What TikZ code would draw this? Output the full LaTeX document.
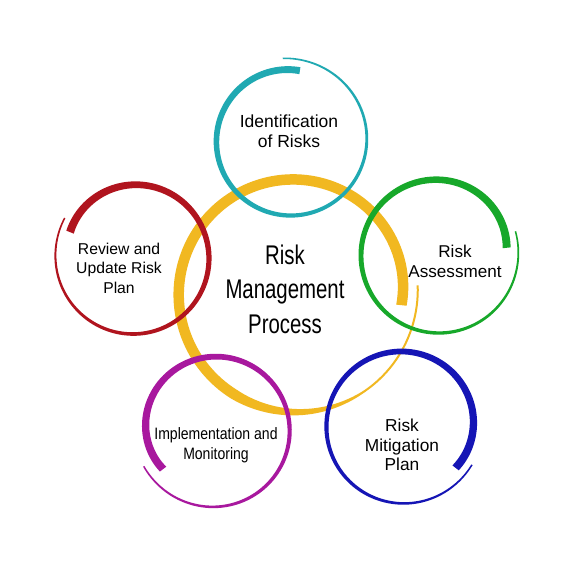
\documentclass[tikz,border=0pt]{standalone}
\usepackage{fontspec}
\setmainfont{Liberation Sans}
\newfontfamily\narrowfont[FakeStretch=0.755]{Liberation Sans}
\newfontfamily\condfont[FakeStretch=0.85]{Liberation Sans}

\definecolor{ringteal}{HTML}{20A9B2}
\definecolor{ringred}{HTML}{B0141E}
\definecolor{ringgreen}{HTML}{17A82A}
\definecolor{ringpurple}{HTML}{A8189E}
\definecolor{ringblue}{HTML}{1515B5}
\definecolor{ringyellow}{HTML}{F1B821}

% Параметры сужения мазка (по умолчанию линейно)
\def\Tc{0}
\def\Te{1}

\tikzset{
  declare function={
    brs(\x)=(\x-\Aa)/(\Ab-\Aa);
    brr(\x)=\Rr+\Rg*brs(\x)^4-\Rh*(1-brs(\x))^6;
    brw(\x)=\Wb+(\Wa-\Wb)*min(1,max(0,(\Te-brs(\x))/(\Te-\Tc)));
  },
  ringtext/.style={align=center, text=black,
    font=\fontsize{17.5}{20}\selectfont},
}

% Мазок кистью: цвет, центр, нач. угол, кон. угол, радиус, рост, крюк, толщина в начале, в конце
\newcommand\brush[9]{%
  \def\Aa{#3}\def\Ab{#4}\def\Rr{#5}\def\Rg{#6}\def\Rh{#7}\def\Wa{#8}\def\Wb{#9}%
  \fill[#1, shift={(#2)}]
    plot[domain=#3:#4, samples=160, variable=\t]
      ({(brr(\t)+brw(\t)/2)*cos(\t)}, {(brr(\t)+brw(\t)/2)*sin(\t)})
    -- plot[domain=#4:#3, samples=160, variable=\t]
      ({(brr(\t)-brw(\t)/2)*cos(\t)}, {(brr(\t)-brw(\t)/2)*sin(\t)})
    -- cycle;}

\begin{document}
\begin{tikzpicture}[x=1pt, y=1pt]
    % --- ФОН ---
    \fill[white] (0,0) rectangle (576,576);
    \useasboundingbox (0,0) rectangle (576,576);

    % --- ЦЕНТРАЛЬНЫЙ КРУГ ---
    \begin{scope}
        \def\Tc{0.66}\def\Te{0.84} % толстый почти до конца, потом хвост
        \brush{ringyellow}{295,282}{-6}{364}{116}{7}{9}{10.5}{2}
    \end{scope}
    \node[font=\narrowfont\fontsize{27}{34.5}\selectfont, align=center]
        (core) at (285,287) {Risk\\Management\\Process};

    % --- МАЛЫЕ КРУГИ ---
    % Identification of Risks
    \brush{ringteal}{290,435}{82}{455}{74}{9}{3}{7}{1.5}
    \node[ringtext] (ident) at (289,444.5) {Identification\\of Risks};

    % Risk Assessment
    \brush{ringgreen}{438,321}{6}{377}{77}{4}{8}{8}{1.5}
    \node[ringtext, font=\fontsize{17.1}{20}\selectfont]
        (assess) at (455,315) {Risk\\Assessment};

    % Risk Mitigation Plan
    \brush{ringblue}{402,150}{-38}{331}{75}{5}{7}{8}{1.5}
    \node[ringtext, font=\fontsize{17.3}{19.5}\selectfont]
        (mitig) at (402,130.7) {Risk\\Mitigation\\Plan};

    % Implementation and Monitoring
    \brush{ringpurple}{215,146}{217}{-153}{74}{6}{9}{8}{1.5}
    \node[ringtext, font=\condfont\fontsize{16.5}{20}\selectfont]
        (implem) at (216,131) {Implementation and\\Monitoring};

    % Review and Update Risk Plan
    \brush{ringred}{134,318}{158}{-210}{75}{5}{6}{8}{1.5}
    \node[ringtext, font=\fontsize{15.7}{19.5}\selectfont]
        (review) at (119,308) {Review and\\Update Risk\\Plan};

\end{tikzpicture}
\end{document}
